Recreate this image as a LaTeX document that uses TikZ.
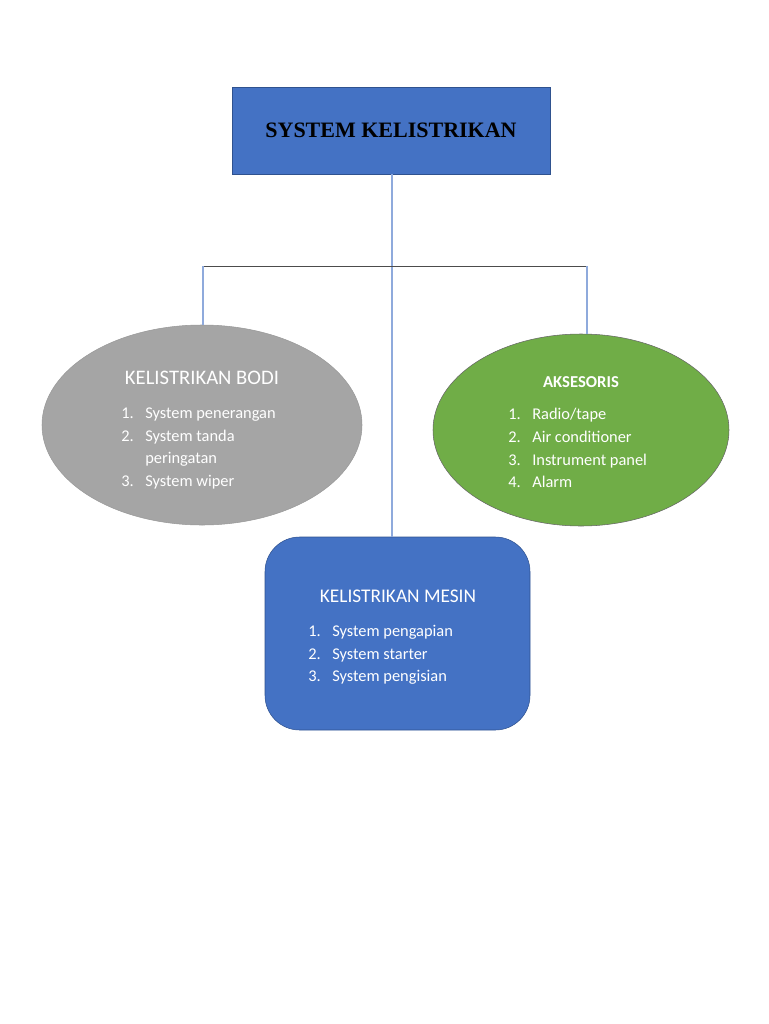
\documentclass[tikz,border=0pt]{standalone}
\usetikzlibrary{shapes.geometric}
\usepackage{fontspec}
\setmainfont{Carlito}
\newfontfamily\tnr{Liberation Serif}
\definecolor{blu}{HTML}{4472C4}
\definecolor{bluedge}{HTML}{2F528F}
\definecolor{gry}{HTML}{A5A5A5}
\definecolor{grn}{HTML}{70AD47}
\definecolor{lblue}{HTML}{8FAADC}
\begin{document}
\begin{tikzpicture}[x=0.75pt,y=-0.75pt,
 itm/.style={anchor=base west,inner sep=0,text=white,font=\fontsize{12.3}{14}\selectfont},
 num/.style={anchor=base east,inner sep=0,text=white,font=\fontsize{12.3}{14}\selectfont},
 ttl/.style={inner sep=0,text=white,font=\fontsize{15.5}{18}\selectfont}]
\useasboundingbox (0,0) rectangle (768,1024);
\node[draw=bluedge,fill=blu,minimum width=318*0.75pt,minimum height=87*0.75pt,inner sep=0,font=\tnr\bfseries\fontsize{16.5}{20}\selectfont] (top) at (391,130.5) {SYSTEM KELISTRIKAN};
\coordinate (hl) at (203,266); \coordinate (hr) at (587,266); \coordinate (hm) at (392,266);
\node[draw=bluedge,fill=blu,rounded corners=26pt,minimum width=265*0.75pt,minimum height=193*0.75pt] (mesin) at (397.5,633.5) {};
\node[ellipse,draw=gray!80,fill=gry,minimum width=320*0.75pt,minimum height=200*0.75pt] (bodi) at (202,425) {};
\node[ellipse,draw=black!60,fill=grn,minimum width=296*0.75pt,minimum height=192*0.75pt] (aks) at (581,430) {};
\draw[lblue,line width=0.8pt] (top.south -| hm) -- (mesin.north -| hm);
\draw[black!70,line width=0.6pt] (hl) -- (hr);
\draw[lblue,line width=0.8pt] (hl) -- (hl |- bodi.north);
\draw[lblue,line width=0.8pt] (hr) -- (hr |- aks.north);
% bodi
\node[ttl,anchor=base] (bt) at (202,384) {KELISTRIKAN BODI};
\node[num] (b1) at (134,418) {1.}; \node[itm] (b1t) at (145,418) {System penerangan};
\node[num] (b2) at (134,441) {2.}; \node[itm] (b2t) at (145,441) {System tanda};
\node[itm] (b2u) at (145,463) {peringatan};
\node[num] (b3) at (134,486) {3.}; \node[itm] (b3t) at (145,486) {System wiper};
% aksesoris
\node[ttl,anchor=base,font=\bfseries\fontsize{12.5}{15}\selectfont] (at) at (581,387) {AKSESORIS};
\node[num] (a1) at (521,419) {1.}; \node[itm] (a1t) at (532,419) {Radio/tape};
\node[num] (a2) at (521,442) {2.}; \node[itm] (a2t) at (532,442) {Air conditioner};
\node[num] (a3) at (521,465) {3.}; \node[itm] (a3t) at (532,465) {Instrument panel};
\node[num] (a4) at (521,487) {4.}; \node[itm] (a4t) at (532,487) {Alarm};
% mesin
\node[ttl,anchor=base,font=\fontsize{14.5}{17}\selectfont] (mt) at (398,602) {KELISTRIKAN MESIN};
\node[num] (m1) at (321,636) {1.}; \node[itm] (m1t) at (332,636) {System pengapian};
\node[num] (m2) at (321,659) {2.}; \node[itm] (m2t) at (332,659) {System starter};
\node[num] (m3) at (321,681) {3.}; \node[itm] (m3t) at (332,681) {System pengisian};
\end{tikzpicture}
\end{document}
